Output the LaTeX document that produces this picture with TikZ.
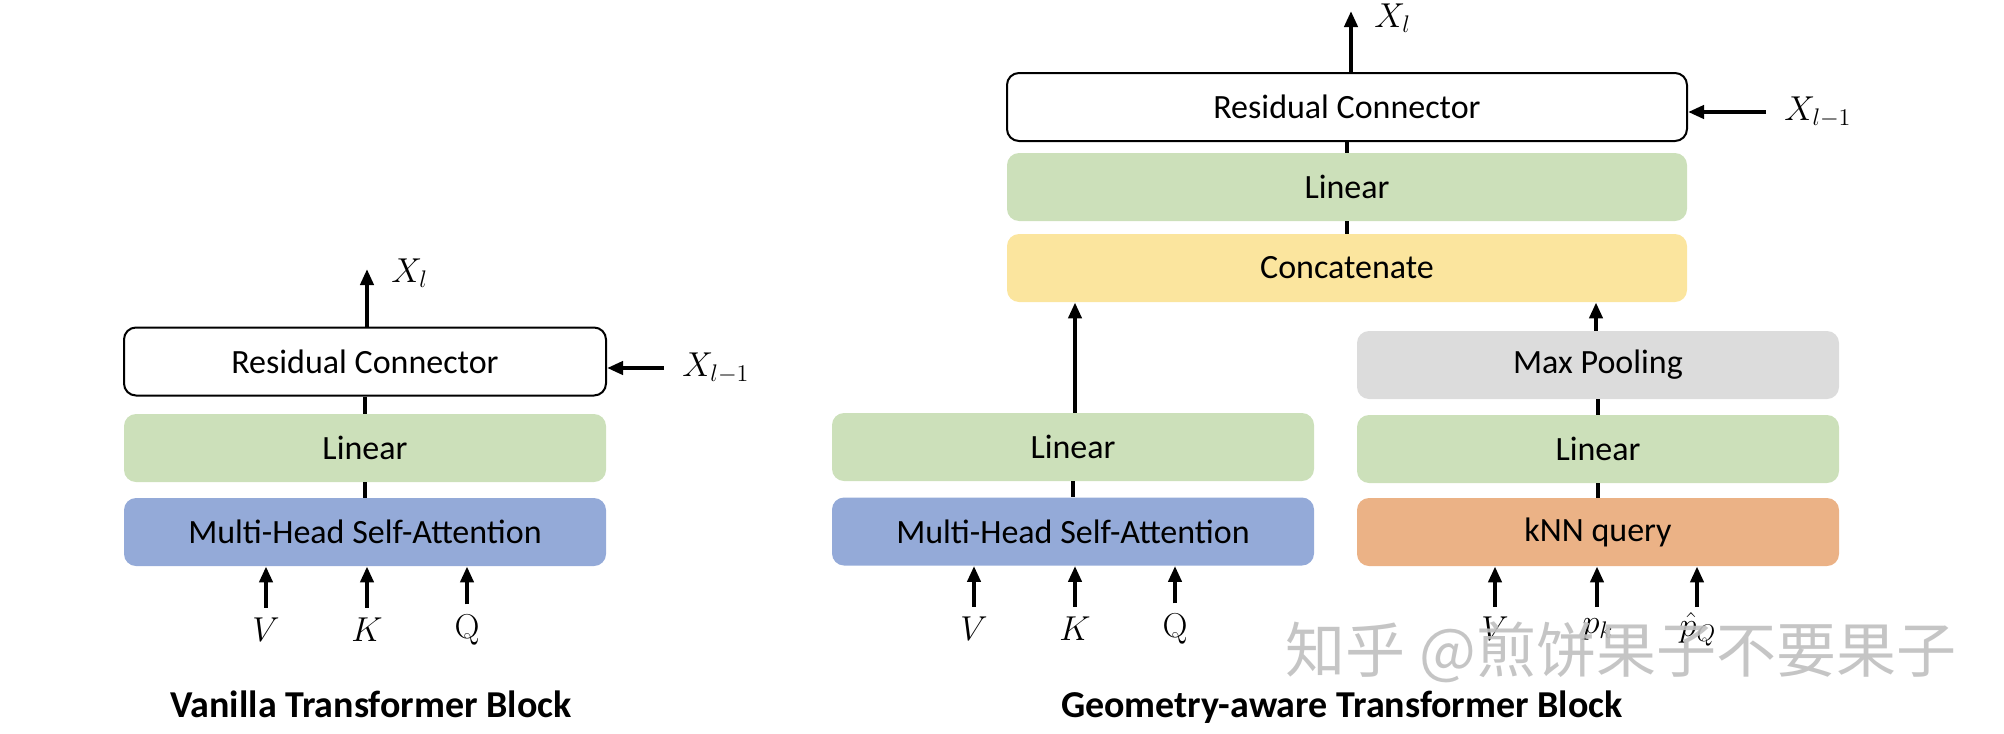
\documentclass[tikz,border=0pt]{standalone}
\usepackage[no-math]{fontspec}
\setmainfont{Carlito}
\newfontfamily\cjk{Noto Sans CJK SC}
\usetikzlibrary{arrows.meta}
\definecolor{cgreen}{HTML}{CCE0BA}
\definecolor{cblue}{HTML}{94AAD8}
\definecolor{cyellow}{HTML}{FBE59E}
\definecolor{cgray}{HTML}{DCDCDC}
\definecolor{corange}{HTML}{EBB286}
\tikzset{
  blk/.style={rounded corners=6pt, minimum height=34pt, inner sep=0pt,
    font=\fontsize{17}{20}\selectfont},
  wbox/.style={blk, draw=black, line width=1pt, fill=white},
  lbl/.style={font=\fontsize{18}{21}\selectfont, inner sep=1pt},
  ttl/.style={font=\fontsize{19}{23}\selectfont\bfseries},
  arr/.style={line width=2pt, -{Triangle[length=8pt,width=6.5pt]}},
  con/.style={line width=1.8pt}
}
\begin{document}
\begin{tikzpicture}[x=0.5pt,y=-0.5pt]
\useasboundingbox (0,0) rectangle (2004,734);
% ---------------- left block ----------------
\node[wbox, minimum width=241pt] (res1) at (365,361.5) {Residual Connector};
\node[blk, fill=cgreen, minimum width=241pt] (lin1) at (365,448) {Linear};
\node[blk, fill=cblue, minimum width=241pt] (att1) at (365,532) {Multi-Head Self-Attention};
\draw[con] (res1.south) -- (lin1.north);
\draw[con] (lin1.south) -- (att1.north);
\coordinate (out1) at (367,269);
\draw[arr] (res1.north -| out1) -- (out1);
\node[lbl, anchor=west] (xl1) at (389,273) {$X_l$};
\node[lbl, anchor=west] (xp1) at (680,368) {$X_{l-1}$};
\draw[arr] (xp1.west) ++(-8pt,0) coordinate (xs1) -- (xs1 -| res1.east);
\node[lbl] (v1) at (266,630) {$V$};
\node[lbl] (k1) at (367,630) {$K$};
\node[lbl] (q1) at (467,630) {$\mathrm{Q}$};
\foreach \n in {v1,k1,q1}{\draw[arr] ([yshift=4pt]\n.north) -- (\n.north |- att1.south);}
\node[ttl] (t1) at (371,704) {Vanilla Transformer Block};
% ---------------- right block ----------------
\node[wbox, minimum width=340pt] (res2) at (1347,107) {Residual Connector};
\node[blk, fill=cgreen, minimum width=340pt] (lin2) at (1347,187) {Linear};
\node[blk, fill=cyellow, minimum width=340pt] (cat) at (1347,268) {Concatenate};
\draw[con] (res2.south) -- (lin2.north);
\draw[con] (lin2.south) -- (cat.north);
\coordinate (out2) at (1351,11);
\draw[arr] (res2.north -| out2) -- (out2);
\node[lbl, anchor=west] (xl2) at (1372,18) {$X_l$};
\node[lbl, anchor=west] (xp2) at (1782,112) {$X_{l-1}$};
\draw[arr] (xp2.west) ++(-8pt,0) coordinate (xs2) -- (xs2 -| res2.east);
% left column
\node[blk, fill=cgreen, minimum width=241pt] (lin3) at (1073,447) {Linear};
\node[blk, fill=cblue, minimum width=241pt] (att2) at (1073,531.5) {Multi-Head Self-Attention};
\draw[con] (lin3.south) -- (att2.north);
\draw[arr] ([xshift=1pt]lin3.north) -- ([xshift=1pt]lin3.north |- cat.south);
\node[lbl] (v2) at (974,629) {$V$};
\node[lbl] (k2) at (1075,629) {$K$};
\node[lbl] (q2) at (1175,629) {$\mathrm{Q}$};
\foreach \n in {v2,k2,q2}{\draw[arr] ([yshift=4pt]\n.north) -- (\n.north |- att2.south);}
% right column
\node[blk, fill=cgray, minimum width=241pt] (pool) at (1598,365) {Max Pooling};
\node[blk, fill=cgreen, minimum width=241pt] (lin4) at (1598,449) {Linear};
\node[blk, fill=corange, minimum width=241pt] (knn) at (1598,532) {kNN query};
\draw[con] (pool.south) -- (lin4.north);
\draw[con] (lin4.south) -- (knn.north);
\draw[arr] ([xshift=-1pt]pool.north) -- ([xshift=-1pt]pool.north |- cat.south);
\node[lbl] (v3) at (1495,629) {$V$};
\node[lbl] (p3) at (1598,629) {$p_k$};
\node[lbl] (p4) at (1698,629) {$\hat{p}_Q$};
\draw[arr] ([yshift=4pt]v3.north) -- (v3.north |- knn.south);
\draw[arr] (1597,607) coordinate (pk) -- (pk |- knn.south);
\draw[arr] (1697,607) coordinate (pq) -- (pq |- knn.south);
\node[ttl] (t2) at (1342,707) {Geometry-aware Transformer Block};
% watermark
\node[font=\cjk\fontsize{30}{34}\selectfont, text=gray!50, opacity=0.9] (wm) at (1621,652) {知乎 @煎饼果子不要果子};
\end{tikzpicture}
\end{document}
